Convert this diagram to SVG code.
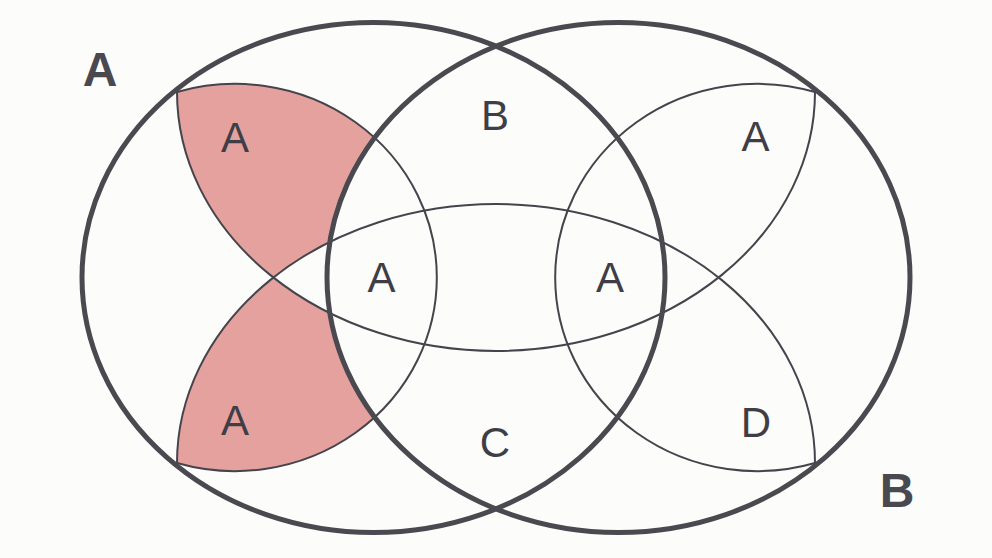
<svg xmlns="http://www.w3.org/2000/svg" width="992" height="558" viewBox="0 0 992 558">
<style>
.bg{fill:#fcfcfa}
.pink{fill:#e5a19e;stroke:none}
.thin{fill:none;stroke:#45444c;stroke-width:2}
.thick{fill:none;stroke:#4a4950;stroke-width:5}
.lbl{font-family:"Liberation Sans",Arial,sans-serif;font-size:42px;fill:#3f3e46;text-anchor:middle}
.big{font-family:"Liberation Sans",Arial,sans-serif;font-size:48px;font-weight:bold;fill:#4a4950;text-anchor:middle}
</style>
<rect class="bg" x="0" y="0" width="992" height="558"/>
<g id="shaded">
<path class="pink" d="M177,92 A202,193.6 0 0 1 374.8,138 A291.5,255 0 0 0 329.7,242 A319,259 0 0 0 273.4,277.5 A319,259 0 0 1 177,92 Z"/>
<path class="pink" d="M177,463 A202,193.6 0 0 0 374.8,417 A291.5,255 0 0 1 329.7,313 A319,259 0 0 1 273.4,277.5 A319,259 0 0 0 177,463 Z"/>
</g>
<g id="connectors">
<path id="arc-left" class="thin" d="M177,92 A202,193.6 0 1 1 177,463"/>
<path id="arc-right" class="thin" d="M815,92 A202,193.6 0 1 0 815,463"/>
<path id="arc-upper" class="thin" d="M177,463 A319,259 0 0 1 815,463"/>
<path id="arc-lower" class="thin" d="M177,92 A319,259 0 0 0 815,92"/>
</g>
<g id="setA"><ellipse class="thick" cx="373.5" cy="277.5" rx="291.5" ry="255"/><text class="big" x="100" y="86">A</text></g>
<g id="setB"><ellipse class="thick" cx="618.5" cy="277.5" rx="291.5" ry="255"/><text class="big" x="897" y="507">B</text></g>
<g id="labels">
<text class="lbl" x="235" y="152">A</text>
<text class="lbl" x="235" y="435">A</text>
<text class="lbl" x="381.5" y="292">A</text>
<text class="lbl" x="610" y="292">A</text>
<text class="lbl" x="755.5" y="151">A</text>
<text class="lbl" x="756" y="437">D</text>
<text class="lbl" x="495" y="130">B</text>
<text class="lbl" x="495" y="457">C</text>
</g>
</svg>
